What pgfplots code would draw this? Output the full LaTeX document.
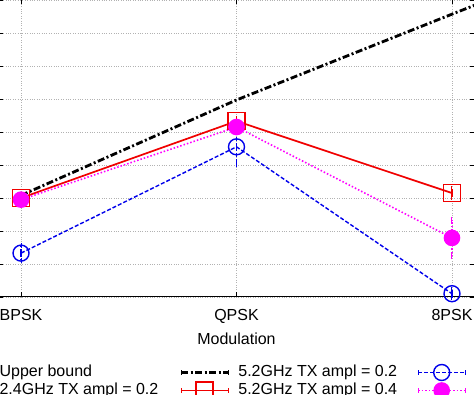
\documentclass[border=0pt]{standalone}
\usepackage{fontspec}
\setmainfont{Liberation Sans}
\usepackage{pgfplots}
\pgfplotsset{compat=1.18}
\definecolor{pmag}{RGB}{255,0,255}
\definecolor{pblue}{RGB}{0,0,235}
\definecolor{pred}{RGB}{240,0,0}
\begin{document}
\begin{tikzpicture}[font=\fontsize{16}{19}\selectfont]
\begin{axis}[
 at={(0,0)}, anchor=south west,
 scale only axis, width=476.2pt, height=298pt,
 xmin=-0.105, xmax=2.105, ymin=0, ymax=9.03,
 xtick={0,1,2}, xticklabels={BPSK,QPSK,8PSK},
 ytick={0,1,...,9}, yticklabels={},
 grid=major, grid style={gray!60, dotted, line width=0.6pt},
 major tick length=5pt, tick style={black, line width=0.8pt},
 axis line style={line width=1pt},
 xticklabel style={inner sep=0pt, anchor=north, yshift=-12pt},
 xlabel={Modulation},
 xlabel style={at={(axis description cs:0.5,0)}, anchor=north, inner sep=0pt, yshift=-36pt},
 clip=false,
 legend columns=2, legend plot pos=right,
 legend cell align=left,
 legend style={at={(axis description cs:0,0)}, anchor=north west, xshift=1.2pt, yshift=-66.5pt,
   draw=none, fill=none, inner sep=0pt, outer sep=0pt,
   /tikz/column sep=0pt, /tikz/row sep=0pt,
   nodes={inner xsep=0pt, inner ysep=1pt, text height=12pt, text depth=4pt}},
 legend image code/.code={
   \draw[#1, mark=none] (0pt,0pt) -- (47pt,0pt);
   \draw[#1, mark=none, solid, line width=0.8pt] (0pt,-2.5pt) -- (0pt,2.5pt) (47pt,-2.5pt) -- (47pt,2.5pt);
   \draw[#1] plot coordinates {(23.5pt,0pt)};
 },
]
\addplot[black, line width=2.8pt, dash pattern=on 7pt off 2.5pt on 2pt off 2.5pt]
  coordinates {(0,3.08) (1,5.97) (2,8.57) (2.105,8.84)};
\addlegendentry{\makebox[180pt][l]{Upper bound}}

\addplot[pblue, line width=1.4pt, dash pattern=on 4pt off 2pt, mark=o, mark size=8pt,
  mark options={solid, line width=1.4pt},
  error bars/.cd, y dir=both, y explicit,
  error bar style={line width=1.2pt, pblue}, error mark options={mark size=2.5pt, line width=1pt}]
  coordinates {(0,1.33) +- (0,0.22) (1,4.55) +- (0,0.55) (2,0.1) +- (0,0.12)};
\addlegendentry{\hspace*{9pt}\makebox[179pt][l]{5.2GHz TX ampl = 0.2}}

\addplot[pred, line width=1.7pt, mark=square, mark size=8.5pt, mark options={solid, line width=1.4pt},
  error bars/.cd, y dir=both, y explicit,
  error bar style={line width=1.2pt, pred}, error mark options={mark size=3pt, line width=1pt}]
  coordinates {(0,3.0) +- (0,0.05) (1,5.33) +- (0,0.05) (2,3.15) +- (0,0.12)};
\addlegendentry{\makebox[180pt][l]{2.4GHz TX ampl = 0.2}}

\addplot[pmag, line width=1.6pt, dash pattern=on 1.5pt off 2pt, mark=*, mark size=7.5pt,
  mark options={solid, fill=pmag},
  error bars/.cd, y dir=both, y explicit,
  error bar style={line width=1.2pt, pmag}, error mark options={mark size=3pt, line width=1pt}]
  coordinates {(0,2.95) +- (0,0.05) (1,5.15) +- (0,0.05) (2,1.79) +- (0,0.55)};
\addlegendentry{\hspace*{9pt}\makebox[179pt][l]{5.2GHz TX ampl = 0.4}}
\end{axis}
\pgfresetboundingbox
\path[use as bounding box] (1.6pt,-98pt) rectangle (475.6pt,297pt);
\end{tikzpicture}
\end{document}
